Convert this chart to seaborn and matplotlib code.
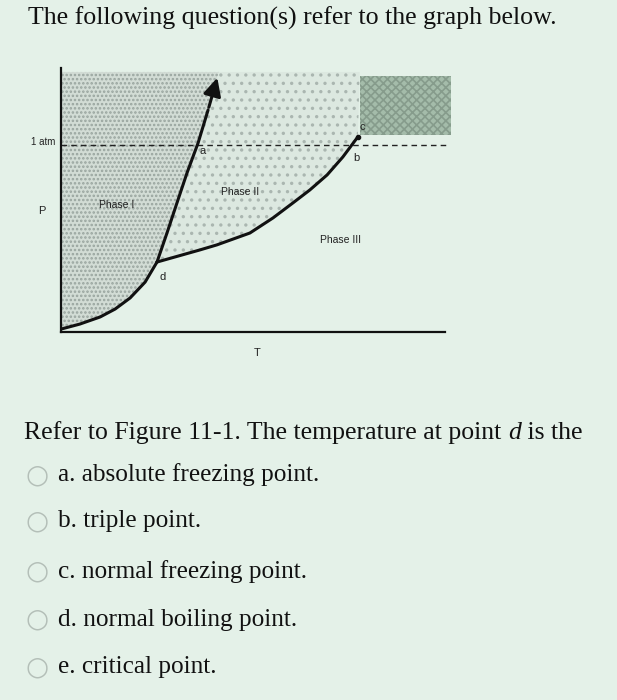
import numpy as np
import pandas as pd
import matplotlib
matplotlib.use("Agg")
import matplotlib.pyplot as plt
import seaborn as sns

# ---- data (T and P in 0-100 diagram units) ----
sub_T = [0.0, 4.9, 10.2, 14.1, 18.0, 21.9, 25.0]
sub_P = [1.1, 3.0, 5.7, 8.7, 12.9, 18.9, 26.5]
fus_T = [25.0, 27.6, 30.2, 32.8, 35.7, 38.3, 40.9]
fus_P = [26.5, 37.5, 48.9, 60.2, 71.6, 84.1, 97.3]
vap_T = [25.0, 36.2, 40.6, 49.2, 55.2, 60.4, 64.8, 69.3, 73.4, 77.3]
vap_P = [26.5, 31.1, 33.0, 37.5, 43.2, 48.9, 53.8, 59.5, 66.3, 73.9]
one_atm = 70.8
top_P = 98.5
crit_box_T = [77.8, 101.5]
crit_box_P = [74.5, 97.0]

point_labels = ["a", "b", "c", "d"]
point_T = [36.8, 77.0, 78.5, 26.5]
point_P = [68.5, 66.0, 77.5, 21.0]

phase_labels = ["Phase I", "Phase II", "Phase III"]
phase_T = [14.5, 46.6, 72.7]
phase_P = [48.0, 53.0, 34.8]

title = "The following question(s) refer to the graph below."
question = "Refer to Figure 11-1. The temperature at point "
options = ["a. absolute freezing point.", "b. triple point.",
           "c. normal freezing point.", "d. normal boiling point.",
           "e. critical point."]

sns.set_theme(style="white")
plt.rcParams['font.family'] = ['Liberation Sans', 'DejaVu Sans']
plt.rcParams['hatch.linewidth'] = 1.2

bg = "#e4f1e8"
fig = plt.figure(figsize=(6.17, 7.0), dpi=100, facecolor=bg)
W, H = 617, 700

ax = fig.add_axes([61 / W, (H - 332) / H, (445 - 61) / W, (332 - 68) / H])
ax.set_facecolor("none")
ax.set_xlim(0, 100)
ax.set_ylim(0, 100)
for s in ["top", "right"]:
    ax.spines[s].set_visible(False)
for s in ["left", "bottom"]:
    ax.spines[s].set_color("#111111")
    ax.spines[s].set_linewidth(1.6)
ax.set_xticks([])
ax.set_yticks([])

# Phase I region
top_T = fus_T[-2] + (fus_T[-1] - fus_T[-2]) * (top_P - fus_P[-2]) / (fus_P[-1] - fus_P[-2])
poly1_T = [0.0] + sub_T + fus_T[1:-1] + [top_T, 0.0]
poly1_P = [0.0] + sub_P + fus_P[1:-1] + [top_P, top_P]
ax.fill(poly1_T, poly1_P, facecolor="#d2dcd5", edgecolor="#98a49e", hatch="....", lw=0, zorder=1)

# Phase II region
poly2_T = fus_T[:-1] + [top_T, crit_box_T[0]] + vap_T[::-1]
poly2_P = fus_P[:-1] + [top_P, top_P] + vap_P[::-1]
ax.fill(poly2_T, poly2_P, facecolor="#dce8e0", edgecolor="#aab6b0", hatch="..", lw=0, zorder=1)

# supercritical box
ax.fill([crit_box_T[0], crit_box_T[1], crit_box_T[1], crit_box_T[0]],
        [crit_box_P[0], crit_box_P[0], crit_box_P[1], crit_box_P[1]],
        facecolor="#a4bcaa", edgecolor="#869c8c", hatch="xxxx", lw=0, zorder=1, clip_on=False)

# 1 atm dashed line
ax.plot([0, 101], [one_atm, one_atm], ls=(0, (4, 3)), color="#222222", lw=1.0, zorder=2, clip_on=False)

# curves
sns.lineplot(x=sub_T, y=sub_P, ax=ax, color="#111111", lw=2.2, sort=False, zorder=3)
sns.lineplot(x=fus_T[:-1], y=fus_P[:-1], ax=ax, color="#111111", lw=2.2, sort=False, zorder=3)
sns.lineplot(x=vap_T, y=vap_P, ax=ax, color="#111111", lw=2.2, sort=False, zorder=3)
ax.annotate("", xy=(fus_T[-1], fus_P[-1]), xytext=(fus_T[-2], fus_P[-2]),
            arrowprops=dict(arrowstyle="-|>,head_length=0.9,head_width=0.45",
                            color="#111111", lw=2.2), zorder=3)
ax.plot([vap_T[-1]], [vap_P[-1]], "o", color="#111111", ms=3, zorder=3)

for lab, t, p in zip(point_labels, point_T, point_P):
    ax.text(t, p, lab, fontsize=8, color="#222222", ha="center", va="center", zorder=4)
for lab, t, p in zip(phase_labels, phase_T, phase_P):
    ax.text(t, p, lab, fontsize=7.5, color="#222222", ha="center", va="center", zorder=4)

ax.text(-1.5, one_atm + 1, "1 atm", fontsize=7, ha="right", va="center", color="#222222")
ax.text(-4, 46, "P", fontsize=8, ha="right", va="center", color="#222222")
ax.text(51, -8, "T", fontsize=8, ha="center", va="center", color="#222222")

# text
serif = ['Liberation Serif', 'DejaVu Serif']
fs_q = 18.5
fig.text(28 / W, 1 - 18 / H, title, fontsize=18.6, family=serif, va="center", ha="left", color="#111111")
qt = fig.text(24 / W, 1 - 433 / H, question, fontsize=fs_q, family=serif, va="center", ha="left", color="#111111")
fig.canvas.draw()
bb = qt.get_window_extent()
qd = fig.text(bb.x1 / fig.bbox.width, 1 - 433 / H, "d", fontsize=fs_q, family=serif, style="italic",
              va="center", ha="left", color="#111111")
bb2 = qd.get_window_extent()
fig.text(bb2.x1 / fig.bbox.width, 1 - 433 / H, " is the", fontsize=fs_q, family=serif,
         va="center", ha="left", color="#111111")

opt_y = [475, 521, 572, 620, 667]
for txt, y in zip(options, opt_y):
    fig.text(58 / W, 1 - y / H, txt, fontsize=18.2, family=serif, va="center", ha="left", color="#111111")
    fig.text(37 / W, 1 - y / H, "\u25CB", fontsize=19, family=['DejaVu Sans'], va="center", ha="center", color="#b4bfb8")

fig.savefig("out.png", dpi=100, facecolor=bg)
